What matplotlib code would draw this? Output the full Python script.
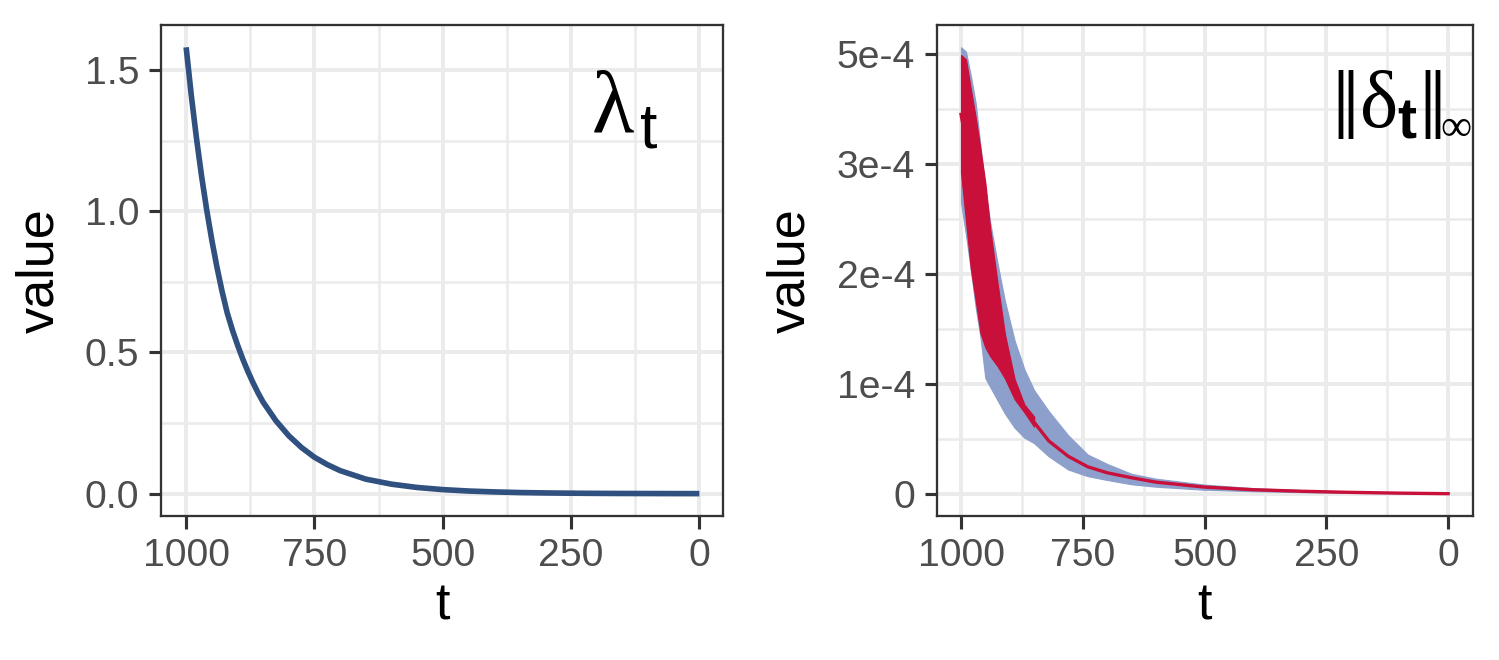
import matplotlib
matplotlib.use("Agg")
import matplotlib.pyplot as plt
import numpy as np

plt.rcParams['font.family'] = ['Liberation Sans', 'DejaVu Sans']
plt.rcParams['mathtext.fontset'] = 'custom'
plt.rcParams['mathtext.rm'] = 'Liberation Serif'
plt.rcParams['mathtext.it'] = 'Liberation Serif:italic'
plt.rcParams['mathtext.bf'] = 'Liberation Sans:bold'
plt.rcParams['mathtext.sf'] = 'Liberation Sans'

# left panel: lambda_t
t_lam = [1000, 990, 980, 970, 960, 950, 940, 930, 920, 910, 900, 890, 880, 870,
         860, 850, 825, 800, 775, 750, 725, 700, 650, 600, 550, 500, 450, 400,
         350, 300, 250, 200, 150, 100, 50, 0]
lam = [1.58, 1.41, 1.26, 1.125, 1.005, 0.898, 0.802, 0.716, 0.640, 0.580,
       0.527, 0.478, 0.434, 0.394, 0.357, 0.324, 0.258, 0.205, 0.163, 0.129,
       0.103, 0.0816, 0.0515, 0.0337, 0.022, 0.0144, 0.0094, 0.0062, 0.004,
       0.0026, 0.0017, 0.0011, 0.0007, 0.0005, 0.0003, 0.0002]

# right panel: ||delta_t||_inf (units of 1e-4)
t_band = [1000, 990, 980, 970, 960, 950, 940, 925, 910, 890, 870, 850, 820,
          780, 740, 700, 650, 600, 500, 400, 300, 200, 100, 0]
blue_hi = [4.06, 4.02, 3.80, 3.55, 3.15, 2.75, 2.46, 2.09, 1.75, 1.39, 1.13,
           0.94, 0.75, 0.53, 0.355, 0.27, 0.18, 0.136, 0.082, 0.05, 0.032,
           0.018, 0.009, 0.0]
blue_lo = [2.65, 2.36, 2.04, 1.70, 1.42, 1.05, 0.97, 0.85, 0.73, 0.60, 0.51,
           0.46, 0.34, 0.22, 0.16, 0.125, 0.086, 0.064, 0.036, 0.023, 0.014,
           0.007, 0.004, 0.0]
red_hi = [3.99, 3.95, 3.68, 3.42, 3.13, 2.82, 2.40, 1.91, 1.45, 1.04, 0.81, 0.70]
red_lo = [2.92, 2.49, 2.05, 1.76, 1.46, 1.33, 1.25, 1.16, 1.05, 0.86, 0.74, 0.61]
red_mid = [3.45, 3.2, 2.85, 2.6, 2.3, 2.1, 1.85, 1.55, 1.25, 0.95, 0.78, 0.65,
           0.48, 0.34, 0.245, 0.19, 0.145, 0.105, 0.06, 0.036, 0.022, 0.012,
           0.005, 0.0]

x_ticks = [1000, 750, 500, 250, 0]
x_minor = [875, 625, 375, 125]
r_yticks = [0, 1, 2, 3, 4]
r_ylabels = ['0', '1e-4', '2e-4', '3e-4', '5e-4']

W, H = 1499, 660
fig = plt.figure(figsize=(W / 300, H / 300), dpi=300)


def px_axes(x0, y0, x1, y1):
    return fig.add_axes([x0 / W, 1 - y1 / H, (x1 - x0) / W, (y1 - y0) / H])


def style(ax):
    ax.set_facecolor('white')
    for s in ax.spines.values():
        s.set_color('#333333')
        s.set_linewidth(0.55)
    ax.grid(which='major', color='#EBEBEB', linewidth=0.95)
    ax.grid(which='minor', color='#EBEBEB', linewidth=0.6)
    ax.set_axisbelow(True)
    ax.tick_params(which='major', length=3.0, width=0.75, color='#333333',
                   labelsize=9.4, labelcolor='#4D4D4D', pad=2.2)
    ax.tick_params(which='minor', length=0)
    ax.set_xticks(x_ticks)
    ax.set_xticks(x_minor, minor=True)
    ax.set_xticklabels([str(v) for v in x_ticks])
    ax.set_xlabel('t', fontsize=12.5, labelpad=2)
    ax.set_ylabel('value', fontsize=12.5, labelpad=5)


ax1 = px_axes(161, 25, 723, 516)
ax1.plot(t_lam, lam, color='#30507F', linewidth=1.35, solid_capstyle='butt')
ax1.set_xlim(1049, -46)
ax1.set_ylim(-0.079, 1.659)
ax1.set_yticks([0, 0.5, 1.0, 1.5])
ax1.set_yticks([0.25, 0.75, 1.25], minor=True)
ax1.set_yticklabels(['0.0', '0.5', '1.0', '1.5'])
style(ax1)

ax2 = px_axes(936.7, 25, 1472.5, 516)
tb = np.array(t_band)
ax2.fill_between(tb, blue_lo, blue_hi, color='#8DA0CB', linewidth=0.3,
                 edgecolor='#8DA0CB')
ax2.fill_between(tb[:len(red_hi)], red_lo, red_hi, color='#C8103A',
                 linewidth=0.3, edgecolor='#C8103A')
ax2.plot(tb, red_mid, color='#C8103A', linewidth=0.8)
ax2.set_xlim(1050, -50)
ax2.set_ylim(-0.203, 4.263)
ax2.set_yticks(r_yticks)
ax2.set_yticks([0.5, 1.5, 2.5, 3.5], minor=True)
ax2.set_yticklabels(r_ylabels)
style(ax2)

# annotations
serif = ['Liberation Serif', 'DejaVu Serif']
fig.text(592 / W, 1 - 132 / H, 'λ', fontsize=21, family=serif, va='baseline')
fig.text(640 / W, 1 - 147 / H, 't', fontsize=15, va='baseline')

norm = fig.text(1331 / W, 1 - 127 / H,
                r'$\left\Vert\mathrm{δ}_{\mathbf{t}}\right\Vert$',
                fontsize=19.5, va='baseline')
fig.canvas.draw()
bb = norm.get_window_extent()
fig.text((bb.x1 - 2) / W, 1 - 140 / H, '∞', fontsize=10.5, family=serif,
         va='baseline')

fig.savefig('out.png', dpi=300)
